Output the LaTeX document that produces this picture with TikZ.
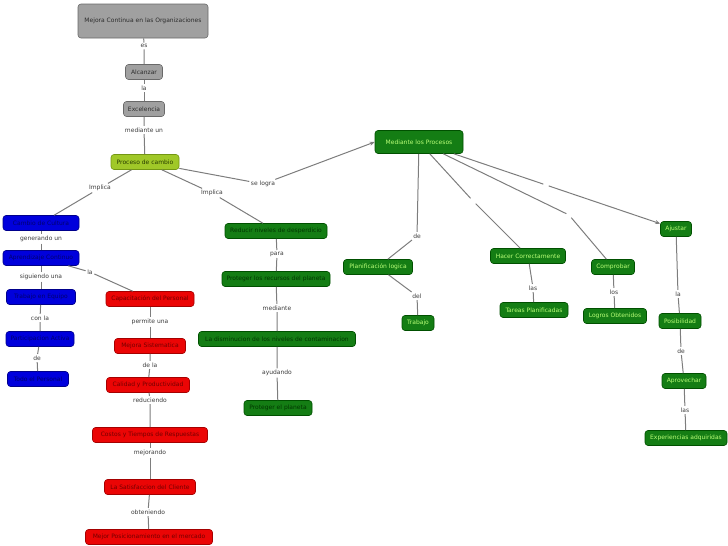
\documentclass[tikz,border=0pt]{standalone}
\usepackage{fontspec}
\setmainfont{DejaVu Sans}
\usetikzlibrary{positioning,arrows.meta}
\definecolor{grisfill}{RGB}{160,160,160}
\definecolor{grisline}{RGB}{105,105,105}
\definecolor{gristext}{RGB}{45,45,45}
\definecolor{limafill}{RGB}{160,200,40}
\definecolor{limaline}{RGB}{115,150,20}
\definecolor{limatext}{RGB}{40,60,0}
\definecolor{azulfill}{RGB}{0,0,220}
\definecolor{azulline}{RGB}{0,0,140}
\definecolor{azultext}{RGB}{0,0,110}
\definecolor{rojofill}{RGB}{235,5,5}
\definecolor{rojoline}{RGB}{165,0,0}
\definecolor{rojotext}{RGB}{115,0,0}
\definecolor{verdefill}{RGB}{20,125,20}
\definecolor{verdeline}{RGB}{0,80,0}
\definecolor{verdetext}{RGB}{0,55,0}
\definecolor{verdeclaro}{RGB}{185,255,120}
\definecolor{lnktext}{RGB}{60,60,60}
\definecolor{lnkline}{RGB}{125,125,125}

\begin{document}
\begin{tikzpicture}[x=1pt,y=-1pt,
          concept/.style={draw,rounded corners=3pt,line width=0.6pt,
            font=\fontsize{6}{7}\selectfont,inner xsep=3pt,inner ysep=2pt,
            minimum height=15pt},
          grisbox/.style={concept,fill=grisfill,draw=grisline,text=gristext},
          limabox/.style={concept,fill=limafill,draw=limaline,text=limatext},
          azulbox/.style={concept,fill=azulfill,draw=azulline,text=azultext},
          rojobox/.style={concept,fill=rojofill,draw=rojoline,text=rojotext},
          verdebox/.style={concept,fill=verdefill,draw=verdeline,text=verdetext},
          verdeluz/.style={verdebox,text=verdeclaro},
          lnk/.style={font=\fontsize{6}{7}\selectfont,text=lnktext,inner sep=1.5pt},
          hueco/.style={inner sep=2.5pt},
          conn/.style={draw=lnkline,line width=1pt},
          flecha/.style={conn,-{Stealth[length=5pt,width=4pt]}}]

        \useasboundingbox (0,0) rectangle (728,546);

        % columna gris
        \node[grisbox,minimum width=130pt,minimum height=34pt] (mejora) at (143,21)
          {Mejora Continua en las Organizaciones};
        \node[grisbox,minimum width=37pt] (alcanzar) at (144,72) {Alcanzar};
        \node[grisbox,minimum width=41pt] (excelencia) at (144,109) {Excelencia};
        \node[limabox,minimum width=68pt] (proceso) at (145,162) {Proceso de cambio};

        \node[lnk] (les) at (144,46) {es};
        \node[lnk] (lla) at (144,88) {la};
        \node[lnk] (lmed) at (144,130) {mediante un};
        \draw[conn] (mejora) -- (les) -- (alcanzar);
        \draw[conn] (alcanzar) -- (lla) -- (excelencia);
        \draw[conn] (excelencia) -- (lmed) -- (proceso);

        % columna azul
        \node[azulbox,minimum width=76pt] (az1) at (41,223) {Cambio de Cultura};
        \node[azulbox,minimum width=76pt] (az2) at (41,258) {Aprendizaje Continuo};
        \node[azulbox,minimum width=69pt] (az3) at (41,297) {Trabajo en Equipo};
        \node[azulbox,minimum width=68pt] (az4) at (40,339) {Participacion Activa};
        \node[azulbox,minimum width=61pt] (az5) at (38,379) {Todo el Personal};

        \node[lnk] (limp1) at (100,188) {Implica};
        \node[lnk] (lgen) at (41,239) {generando un};
        \node[lnk] (lsig) at (41,277) {siguiendo una};
        \node[lnk] (lcon) at (40,318) {con la};
        \node[lnk] (lde1) at (37,358) {de};
        \draw[conn] (proceso) -- (limp1) -- (az1);
        \draw[conn] (az1) -- (lgen) -- (az2);
        \draw[conn] (az2) -- (lsig) -- (az3);
        \draw[conn] (az3) -- (lcon) -- (az4);
        \draw[conn] (az4) -- (lde1) -- (az5);

        % columna roja
        \node[rojobox,minimum width=88pt] (ro1) at (150,299) {Capacitación del Personal};
        \node[rojobox,minimum width=71pt] (ro2) at (150,346) {Mejora Sistematica};
        \node[rojobox,minimum width=83pt] (ro3) at (148,385) {Calidad y Productividad};
        \node[rojobox,minimum width=115pt] (ro4) at (150,435) {Costos y Tiempos de Respuestas};
        \node[rojobox,minimum width=91pt] (ro5) at (150,487) {La Satisfaccion del Cliente};
        \node[rojobox,minimum width=127pt] (ro6) at (149,537) {Mejor Posicionamiento en el mercado};

        \node[lnk] (lla2) at (90,272) {la};
        \node[lnk] (lper) at (150,322) {permite una};
        \node[lnk] (ldel) at (150,365) {de la};
        \node[lnk] (lred) at (150,400) {reduciendo};
        \node[lnk] (lmej) at (150,453) {mejorando};
        \node[lnk] (lobt) at (148,512) {obteniendo};
        \draw[conn] (az2) -- (lla2) -- (ro1);
        \draw[conn] (ro1) -- (lper) -- (ro2);
        \draw[conn] (ro2) -- (ldel) -- (ro3);
        \draw[conn] (ro3) -- (lred) -- (ro4);
        \draw[conn] (ro4) -- (lmej) -- (ro5);
        \draw[conn] (ro5) -- (lobt) -- (ro6);

        % columna verde central
        \node[verdebox,minimum width=102pt] (ve1) at (276,231) {Reducir niveles de desperdicio};
        \node[verdebox,minimum width=108pt] (ve2) at (276,279) {Proteger los recursos del planeta};
        \node[verdebox,minimum width=157pt] (ve3) at (277,339)
          {La disminucion de los niveles de contaminacion};
        \node[verdebox,minimum width=68pt] (ve4) at (278,408) {Proteger el planeta};

        \node[lnk] (limp2) at (212,193) {Implica};
        \node[lnk] (lpara) at (277,254) {para};
        \node[lnk] (lmte) at (277,308) {mediante};
        \node[lnk] (layu) at (277,373) {ayudando};
        \draw[conn] (proceso) -- (limp2) -- (ve1);
        \draw[conn] (ve1) -- (lpara) -- (ve2);
        \draw[conn] (ve2) -- (lmte) -- (ve3);
        \draw[conn] (ve3) -- (layu) -- (ve4);

        % procesos
        \node[verdeluz,minimum width=88pt,minimum height=23pt] (procesos) at (419,142)
          {Mediante los Procesos};
        \node[lnk] (llog) at (263,184) {se logra};
        \draw[conn] (proceso) -- (llog);
        \draw[flecha] (llog) -- (procesos.west);

        \node[verdeluz,minimum width=69pt] (plan) at (378,267) {Planificación logica};
        \node[verdeluz,minimum width=32pt] (trabajo) at (418,323) {Trabajo};
        \node[verdeluz,minimum width=75pt] (hacer) at (528,256) {Hacer Correctamente};
        \node[verdeluz,minimum width=68pt] (tareas) at (534,310) {Tareas Planificadas};
        \node[verdeluz,minimum width=43pt] (comprobar) at (613,267) {Comprobar};
        \node[verdeluz,minimum width=63pt] (logros) at (615,316) {Logros Obtenidos};
        \node[verdeluz,minimum width=31pt] (ajustar) at (676,229) {Ajustar};
        \node[verdeluz,minimum width=42pt] (posib) at (680,321) {Posibilidad};
        \node[verdeluz,minimum width=44pt] (aprov) at (684,381) {Aprovechar};
        \node[verdeluz,minimum width=82pt] (exper) at (686,438) {Experiencias adquiridas};

        \node[lnk] (lde2) at (417,236) {de};
        \node[lnk] (ldel2) at (417,296) {del};
        \node[hueco] (g1) at (473,201) {};
        \node[lnk] (llas) at (533,288) {las};
        \node[hueco] (g2) at (569,215) {};
        \node[lnk] (llos) at (614,292) {los};
        \node[hueco] (g3) at (546,185) {};
        \node[lnk] (lla3) at (678,294) {la};
        \node[lnk] (lde3) at (681,351) {de};
        \node[lnk] (llas2) at (685,410) {las};

        \draw[conn] (procesos) -- (lde2) -- (plan);
        \draw[conn] (plan) -- (ldel2) -- (trabajo);
        \draw[conn] (procesos) -- (g1) -- (hacer);
        \draw[conn] (hacer) -- (llas) -- (tareas);
        \draw[conn] (procesos) -- (g2) -- (comprobar);
        \draw[conn] (comprobar) -- (llos) -- (logros);
        \draw[conn] (procesos) -- (g3);
        \draw[flecha] (g3) -- (ajustar);
        \draw[conn] (ajustar) -- (lla3) -- (posib);
        \draw[conn] (posib) -- (lde3) -- (aprov);
        \draw[conn] (aprov) -- (llas2) -- (exper);
      \end{tikzpicture}
\end{document}
